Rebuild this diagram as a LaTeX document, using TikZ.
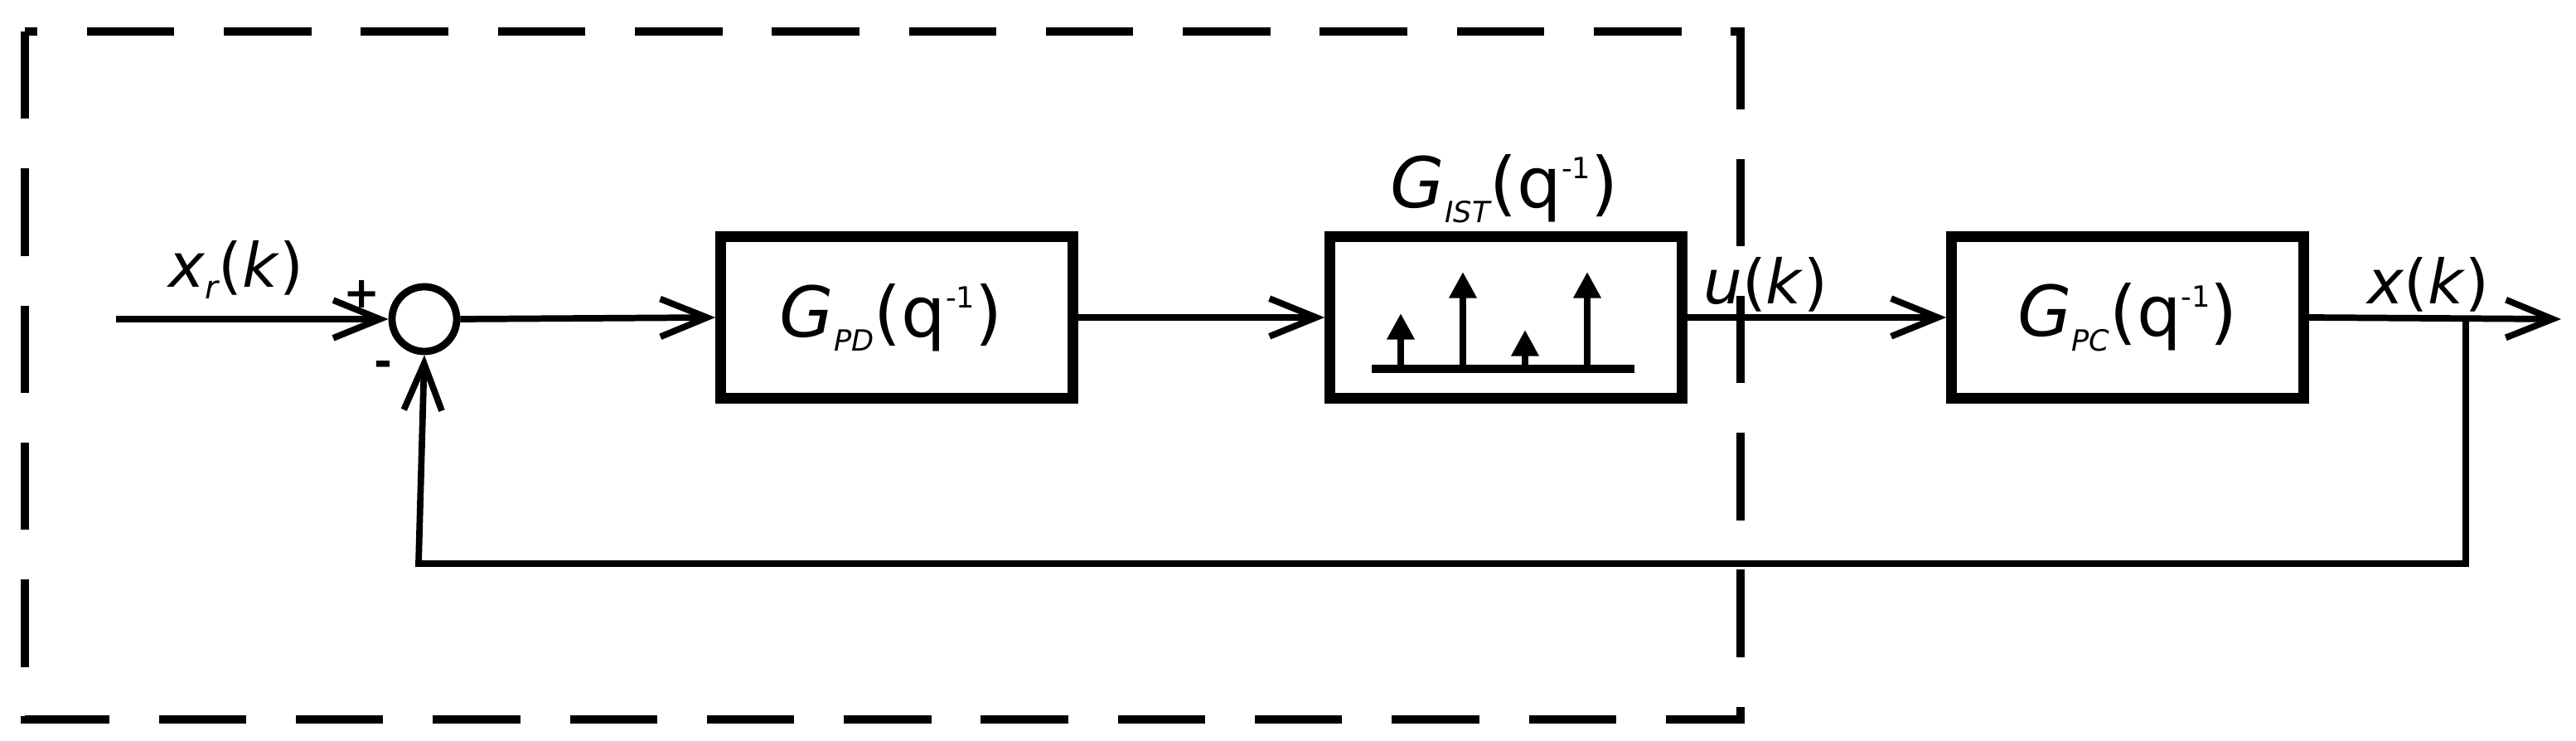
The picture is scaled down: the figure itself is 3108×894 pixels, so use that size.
\documentclass[tikz,border=0pt]{standalone}
\usepackage{fontspec}
\setmainfont{DejaVu Sans}
\usetikzlibrary{arrows.meta}
\begin{document}
\begin{tikzpicture}[x=0.01cm,y=-0.01cm,
 ln/.style={line width=2.2pt},
 arr/.style={ln,-{Straight Barb[length=16pt,width=13pt,line width=2.2pt]}},
 blk/.style={draw,line width=3.5pt,minimum width=4.25cm,minimum height=1.95cm,inner sep=0pt},
 lbl/.style={font=\fontsize{24}{28}\selectfont,inner sep=0pt}]
\useasboundingbox (0,0) rectangle (3108,894);
\draw[line width=3pt,dash pattern=on 30pt off 17pt] (30,38) rectangle (2100,868);
\coordinate (in) at (140,385);
\node[draw,circle,line width=2.5pt,minimum size=0.78cm,inner sep=0pt] (s) at (512,385) {};
\node[blk] (pd) at (1082,383) {};
\node[lbl] at (1075,383) {\textit{G}\raisebox{-5pt}{\fontsize{10}{11}\itshape PD}(q\raisebox{10pt}{\fontsize{10}{11}\selectfont -1})};
\node[blk] (ist) at (1817,383) {};
\node[lbl] (istl) at (1815,228) {\textit{G}\raisebox{-5pt}{\fontsize{10}{11}\itshape IST}(q\raisebox{10pt}{\fontsize{10}{11}\selectfont -1})};
\node[blk] (pc) at (2567,383) {};
\node[lbl] at (2567,383) {\textit{G}\raisebox{-5pt}{\fontsize{10}{11}\itshape PC}(q\raisebox{10pt}{\fontsize{10}{11}\selectfont -1})};
\coordinate (out) at (3090,385);
\coordinate (tap) at (2975,385);
\coordinate (c1) at (2975,680);
\coordinate (c2) at (505,680);
\draw[arr] (in) -- (s.west);
\draw[arr] (s.east) -- (pd.west);
\draw[arr] (pd.east) -- (ist.west);
\draw[arr] (ist.east) -- (pc.west);
\draw[arr] (pc.east) -- (out);
\draw[arr] (tap) -- (c1) -- (c2) -- (s.south);
% impulses
\coordinate (b1) at (1655,445); \coordinate (b2) at (1972,445);
\draw[line width=3pt] (b1) -- (b2);
\foreach \x/\t in {1690/378,1765/328,1840/398,1915/328}{
 \coordinate (p\x) at (\x,445); \coordinate (q\x) at (\x,\t);
 \draw[line width=2.5pt,-{Triangle[length=9pt,width=9pt]}] (p\x) -- (q\x);}
\node[lbl,font=\fontsize{21}{24}\selectfont] at (285,325) {\textit{x}\raisebox{-4pt}{\fontsize{11}{12}\itshape r}(\textit{k})};
\node[font=\fontsize{15}{16}\selectfont\bfseries] at (437,355) {+};
\node[font=\fontsize{15}{16}\selectfont\bfseries] at (462,445) {-};
\node[lbl,font=\fontsize{21}{24}\selectfont] at (2130,343) {\textit{u}(\textit{k})};
\node[lbl,font=\fontsize{21}{24}\selectfont] at (2930,343) {\textit{x}(\textit{k})};
\end{tikzpicture}
\end{document}
